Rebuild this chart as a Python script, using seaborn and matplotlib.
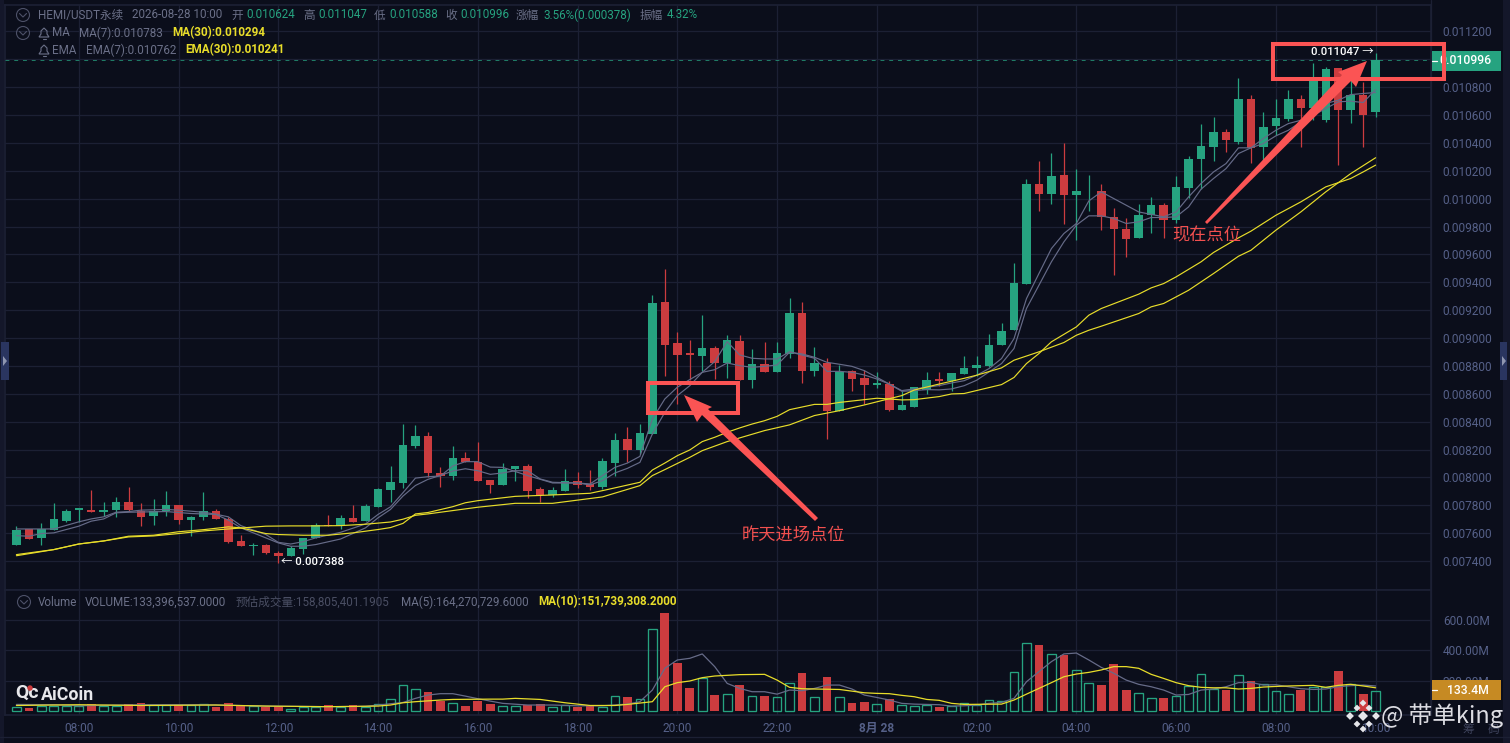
import matplotlib
matplotlib.use("Agg")
import matplotlib.pyplot as plt
import numpy as np
import seaborn as sns
from matplotlib.patches import Circle, Polygon, Rectangle

# all prices are in millionths, volumes in millions
opens = [
    7513, 7628, 7563, 7626, 7690, 7765, 7767, 7750, 7765, 7825,
    7762, 7722, 7758, 7803, 7693, 7717, 7760, 7705, 7546, 7506,
    7518, 7460, 7434, 7484, 7563, 7659, 7654, 7712, 7686, 7791,
    7909, 7959, 8225, 8295, 8033, 8007, 8142, 8113, 7978, 7948,
    8060, 8082, 7917, 7874, 7905, 7974, 7950, 7931, 8103, 8273,
    8197, 8312, 9261, 8965, 8890, 8871, 8929, 8821, 8979, 8702,
    8814, 8756, 8886, 9180, 8766, 8821, 8480, 8764, 8713, 8663,
    8668, 8484, 8508, 8630, 8704, 8692, 8742, 8786, 8800, 8949,
    9056, 9386, 10102, 10032, 10173, 10025, 10054, 10058, 9870, 9786,
    9719, 9881, 9958, 9846, 10075, 10283, 10369, 10482, 10410, 10719,
    10369, 10520, 10575, 10719, 10653, 10565, 10935, 10636, 10744, 10624,
]
closes = [
    7626, 7561, 7630, 7698, 7760, 7777, 7750, 7767, 7825, 7765,
    7714, 7762, 7803, 7693, 7719, 7760, 7702, 7539, 7506, 7518,
    7455, 7434, 7496, 7568, 7657, 7650, 7712, 7683, 7798, 7914,
    7964, 8230, 8295, 8031, 8012, 8142, 8113, 7974, 7942, 8060,
    8082, 7905, 7874, 7910, 7974, 7946, 7934, 8118, 8269, 8197,
    8319, 9252, 8950, 8879, 8879, 8929, 8821, 8986, 8702, 8814,
    8754, 8893, 9180, 8766, 8821, 8477, 8759, 8706, 8663, 8678,
    8486, 8520, 8647, 8699, 8692, 8749, 8785, 8810, 8953, 9054,
    9398, 10109, 10032, 10166, 10025, 10058, 10058, 9870, 9781, 9709,
    9886, 9958, 9846, 10087, 10288, 10381, 10482, 10420, 10719, 10365,
    10515, 10582, 10719, 10654, 10850, 10931, 10636, 10744, 10600, 10996,
]
highs = [
    7654, 7628, 7674, 7813, 7770, 7777, 7911, 7827, 7856, 7933,
    7813, 7846, 7902, 7803, 7722, 7894, 7774, 7717, 7585, 7530,
    7525, 7474, 7510, 7568, 7674, 7731, 7731, 7803, 7810, 7926,
    8084, 8382, 8374, 8329, 8077, 8223, 8180, 8257, 7978, 8100,
    8082, 8094, 7929, 7929, 8060, 8037, 8053, 8137, 8319, 8362,
    8383, 9309, 9496, 9044, 8986, 9168, 8945, 9024, 9024, 8922,
    8969, 8974, 9288, 9261, 8936, 8857, 8807, 8773, 8771, 8759,
    8692, 8623, 8647, 8754, 8754, 8749, 8869, 8869, 9032, 9111,
    9539, 10140, 10274, 10331, 10400, 10214, 10173, 10102, 9936, 9858,
    9965, 10013, 9972, 10166, 10305, 10539, 10587, 10503, 10867, 10743,
    10623, 10719, 10778, 10743, 10974, 10947, 10941, 10850, 10838, 11047,
]
lows = [
    7513, 7555, 7515, 7626, 7678, 7680, 7750, 7722, 7717, 7762,
    7650, 7662, 7722, 7669, 7578, 7693, 7702, 7530, 7506, 7446,
    7453, 7388, 7434, 7453, 7563, 7650, 7630, 7683, 7686, 7791,
    7827, 7923, 8214, 8005, 7928, 7983, 8113, 7974, 7890, 7948,
    7977, 7850, 7821, 7857, 7905, 7922, 7912, 7917, 8013, 8113,
    8168, 8312, 8730, 8527, 8702, 8766, 8706, 8714, 8702, 8639,
    8754, 8756, 8857, 8678, 8730, 8276, 8480, 8623, 8527, 8642,
    8479, 8484, 8508, 8599, 8658, 8623, 8742, 8730, 8790, 8949,
    9056, 9386, 9910, 9960, 9819, 9702, 9910, 9774, 9451, 9580,
    9719, 9755, 9719, 9826, 10008, 10068, 10269, 10336, 10396, 10259,
    10276, 10456, 10556, 10369, 10563, 10550, 10240, 10544, 10369, 10588,
]
volumes = [
    27, 20, 29, 30, 29, 29, 44, 31, 31, 44,
    51, 40, 35, 35, 38, 42, 24, 49, 33, 31,
    27, 31, 15, 22, 27, 35, 24, 35, 22, 42,
    75, 168, 141, 124, 64, 49, 31, 64, 46, 33,
    29, 38, 44, 22, 35, 27, 31, 27, 95, 91,
    77, 539, 648, 318, 150, 214, 104, 108, 170, 95,
    97, 88, 181, 250, 88, 223, 88, 51, 57, 42,
    75, 40, 29, 35, 24, 31, 53, 35, 69, 62,
    254, 446, 435, 373, 369, 267, 181, 170, 309, 137,
    115, 82, 84, 95, 164, 241, 146, 137, 234, 197,
    175, 128, 108, 137, 159, 159, 263, 175, 110, 133,
]

# indicator lines, read at their visible corners: (candle index, value)
ma7_at = [0, 1, 2, 3, 5, 6, 7, 8, 9, 12, 14, 16, 17, 18, 20, 21, 22, 23, 24, 26, 28, 29, 30, 31, 32, 33, 34, 35, 36, 37, 38, 39, 40, 41, 42, 43, 45, 46, 47, 48, 49, 50, 51, 52, 53, 54, 55, 56, 57, 58, 59, 60, 61, 62, 63, 64, 65, 66, 67, 68, 69, 70, 71, 72, 73, 74, 75, 76, 77, 78, 79, 80, 81, 82, 83, 84, 85, 86, 87, 88, 89, 90, 91, 92, 93, 94, 95, 96, 97, 98, 99, 100, 101, 102, 103, 105, 106, 107, 108, 109]
ma7_val = [7582, 7578, 7597, 7602, 7650, 7686, 7702, 7746, 7750, 7755, 7741, 7734, 7693, 7638, 7566, 7530, 7506, 7506, 7518, 7558, 7638, 7710, 7770, 7866, 7942, 7986, 8014, 8046, 8062, 8048, 8022, 8032, 8048, 8048, 7989, 7965, 7960, 7946, 7977, 8032, 8065, 8108, 8312, 8467, 8587, 8658, 8754, 8831, 8974, 8879, 8855, 8850, 8850, 8902, 8878, 8855, 8761, 8761, 8754, 8735, 8706, 8670, 8618, 8623, 8630, 8628, 8635, 8658, 8697, 8757, 8817, 8925, 9212, 9379, 9547, 9690, 9810, 9877, 9877, 9858, 9822, 9834, 9865, 9865, 9870, 9941, 10068, 10145, 10216, 10324, 10365, 10396, 10451, 10491, 10551, 10647, 10695, 10700, 10690, 10783]
ema7_at = [0, 2, 3, 5, 6, 7, 8, 9, 10, 12, 13, 15, 16, 17, 18, 20, 21, 22, 23, 24, 26, 28, 29, 30, 31, 32, 33, 34, 35, 36, 37, 38, 39, 41, 43, 45, 46, 47, 48, 49, 50, 51, 52, 53, 54, 55, 56, 57, 58, 59, 60, 61, 62, 63, 64, 65, 66, 67, 68, 69, 70, 71, 72, 73, 74, 75, 76, 77, 78, 79, 80, 81, 82, 83, 84, 85, 86, 87, 88, 90, 92, 93, 94, 95, 96, 97, 98, 99, 100, 101, 102, 103, 105, 106, 107, 108, 109]
ema7_val = [7630, 7630, 7630, 7681, 7702, 7717, 7750, 7755, 7765, 7770, 7765, 7750, 7736, 7717, 7654, 7590, 7534, 7522, 7539, 7566, 7606, 7666, 7734, 7789, 7890, 7995, 8005, 8010, 8082, 8113, 8113, 8074, 8072, 8013, 7960, 7960, 7953, 8013, 8072, 8103, 8151, 8419, 8563, 8647, 8702, 8754, 8773, 8821, 8802, 8790, 8797, 8807, 8898, 8886, 8862, 8826, 8812, 8797, 8766, 8718, 8670, 8623, 8635, 8647, 8659, 8678, 8694, 8733, 8781, 8853, 8996, 9283, 9463, 9642, 9750, 9822, 9984, 10049, 10001, 9905, 9870, 9905, 10013, 10109, 10192, 10252, 10365, 10365, 10432, 10491, 10539, 10563, 10683, 10707, 10747, 10755, 10762]
ema30_at = [0, 3, 5, 7, 9, 11, 13, 15, 16, 17, 18, 20, 21, 23, 25, 27, 29, 30, 31, 32, 33, 35, 36, 37, 40, 43, 46, 47, 50, 51, 52, 53, 54, 55, 56, 57, 58, 59, 60, 61, 62, 64, 65, 66, 69, 70, 71, 72, 74, 75, 76, 79, 80, 81, 82, 83, 85, 86, 87, 90, 91, 92, 93, 95, 96, 98, 99, 101, 103, 105, 107, 108, 109]
ema30_val = [7438, 7482, 7522, 7544, 7578, 7585, 7610, 7625, 7635, 7645, 7638, 7597, 7590, 7585, 7585, 7602, 7626, 7640, 7670, 7738, 7748, 7790, 7818, 7833, 7864, 7874, 7886, 7905, 7965, 8053, 8103, 8156, 8197, 8257, 8288, 8324, 8355, 8383, 8407, 8438, 8486, 8524, 8524, 8538, 8568, 8563, 8556, 8558, 8580, 8599, 8602, 8666, 8717, 8817, 8889, 8973, 9080, 9164, 9212, 9315, 9360, 9391, 9439, 9547, 9614, 9719, 9767, 9881, 9977, 10085, 10145, 10192, 10241]
ma30_at = [0, 3, 5, 7, 9, 11, 13, 15, 17, 20, 22, 24, 26, 28, 30, 31, 32, 33, 35, 37, 40, 43, 47, 50, 51, 52, 54, 55, 57, 60, 62, 64, 66, 68, 71, 72, 74, 76, 77, 79, 80, 82, 84, 85, 86, 87, 90, 91, 92, 94, 96, 98, 99, 101, 103, 105, 107, 109]
ma30_val = [7446, 7482, 7522, 7544, 7573, 7580, 7597, 7616, 7630, 7650, 7652, 7652, 7654, 7664, 7680, 7700, 7728, 7738, 7762, 7786, 7814, 7814, 7860, 7941, 8013, 8056, 8144, 8192, 8257, 8336, 8377, 8444, 8479, 8520, 8587, 8627, 8670, 8711, 8733, 8786, 8841, 8901, 8968, 9020, 9056, 9085, 9176, 9224, 9248, 9343, 9463, 9587, 9630, 9774, 9905, 10049, 10180, 10294]

vol_ma5_at = [0, 3, 5, 10, 15, 20, 25, 28, 29, 31, 32, 33, 34, 35, 36, 37, 38, 39, 41, 43, 45, 47, 49, 50, 51, 52, 53, 54, 55, 56, 57, 58, 59, 60, 61, 62, 63, 64, 65, 66, 67, 68, 69, 70, 71, 72, 73, 74, 75, 76, 77, 78, 79, 80, 81, 82, 83, 84, 85, 86, 87, 88, 89, 90, 91, 92, 93, 94, 95, 96, 97, 98, 99, 100, 101, 102, 103, 104, 105, 106, 107, 108, 109]
vol_ma5_val = [42, 40, 33, 40, 40, 31, 27, 29, 38, 55, 82, 104, 113, 113, 97, 80, 64, 49, 38, 38, 33, 33, 44, 60, 137, 281, 336, 347, 376, 292, 181, 148, 126, 126, 110, 137, 133, 148, 170, 170, 144, 104, 88, 71, 49, 44, 42, 40, 31, 33, 38, 49, 55, 82, 192, 259, 325, 376, 382, 336, 287, 248, 203, 175, 159, 137, 104, 108, 137, 144, 159, 186, 188, 170, 172, 159, 146, 141, 144, 159, 166, 170, 164]
vol_ma10_at = [0, 5, 10, 16, 20, 25, 29, 30, 31, 32, 34, 35, 38, 39, 40, 42, 44, 46, 48, 49, 50, 51, 52, 53, 54, 55, 56, 58, 60, 61, 62, 63, 64, 66, 67, 68, 69, 70, 71, 72, 73, 74, 75, 76, 79, 80, 81, 82, 83, 84, 85, 86, 87, 88, 89, 90, 91, 92, 93, 94, 95, 96, 97, 98, 99, 100, 101, 102, 103, 104, 105, 106, 107, 108, 109]
vol_ma10_val = [35, 40, 35, 38, 31, 27, 31, 38, 53, 60, 71, 75, 77, 77, 82, 75, 53, 35, 35, 42, 51, 60, 159, 186, 197, 219, 230, 239, 241, 203, 155, 146, 144, 141, 130, 119, 115, 113, 102, 93, 75, 69, 49, 42, 44, 71, 110, 148, 186, 225, 243, 254, 270, 292, 292, 281, 241, 214, 186, 166, 155, 152, 152, 144, 148, 157, 161, 164, 166, 168, 155, 168, 175, 164, 152]

y_ticks = [7400, 7600, 7800, 8000, 8200, 8400, 8600, 8800, 9000, 9200, 9400, 9600, 9800, 10000, 10200, 10400, 10600, 10800, 11000, 11200]
vol_ticks = [200, 400, 600]
time_ticks = [5, 13, 21, 29, 37, 45, 53, 61, 69, 77, 85, 93, 101, 109]
time_labels = ["08:00", "10:00", "12:00", "14:00", "16:00", "18:00", "20:00", "22:00", "8月 28", "02:00", "04:00", "06:00", "08:00", "10:00"]

BG = "#0b0e1b"
GRID = "#1c2034"
GREEN = "#26a380"
RED = "#cc3c3f"
GRAY_LINE = "#666b88"
YELLOW = "#e8dd2a"
AXIS_TEXT = "#556088"
LABEL = "#6b7088"
MARK = "#fb5454"
W, H = 1510, 743


def pane(fig, left, top, right, bottom):
    ax = fig.add_axes([left / W, 1 - bottom / H, (right - left) / W, (bottom - top) / H])
    ax.set_facecolor(BG)
    ax.grid(True, color=GRID, linewidth=0.9)
    ax.set_axisbelow(True)
    for s in ax.spines.values():
        s.set_color(GRID)
    return ax


def write(ax, x, y, s, color=LABEL, size=8.4, weight="normal", ha="left", **kw):
    ax.text(x, y, s, color=color, fontsize=size, fontweight=weight, ha=ha, va="center", **kw)


def chevron_badge(ax, x, y):
    ax.add_patch(Circle((x, y), 6.5, fill=False, edgecolor="#4d5168", linewidth=0.8))
    ax.plot([x - 3.5, x, x + 3.5], [y - 1.5, y + 2, y - 1.5], color="#4d5168", linewidth=0.8)


def bell(ax, x, y):
    ax.add_patch(Polygon([(x - 5, y + 4), (x - 3, y + 1), (x - 3, y - 2), (x, y - 5), (x + 3, y - 2), (x + 3, y + 1), (x + 5, y + 4)],
                         closed=True, fill=False, edgecolor=LABEL, linewidth=0.8))
    ax.plot([x - 1.5, x + 1.5], [y + 6, y + 6], color=LABEL, linewidth=0.8)


def main() -> None:
    sns.set_theme(style="dark", rc={"figure.facecolor": BG, "axes.facecolor": BG})
    plt.rcParams["font.family"] = ["Roboto", "Noto Sans CJK SC", "DejaVu Sans"]

    o, c, h, l = (np.array(a) * 1e-6 for a in (opens, closes, highs, lows))
    idx = np.arange(len(opens))
    up = c >= o
    colors = np.where(up, GREEN, RED)

    fig = plt.figure(figsize=(W / 100, H / 100), dpi=100, facecolor=BG)
    x_lim = ((5 - 16.4) / 12.47, (1431 - 16.4) / 12.47)

    # candles
    ax = pane(fig, 5, 5, 1431, 590)
    ax.vlines(idx, l, h, colors=colors, linewidth=0.9, zorder=2)
    ax.bar(idx, np.maximum(np.abs(c - o), 2e-6), bottom=np.minimum(o, c), width=0.68,
           color=colors, edgecolor="none", linewidth=0, zorder=3)

    # moving averages
    for at, val, col in [(ma7_at, ma7_val, GRAY_LINE), (ema7_at, ema7_val, GRAY_LINE),
                         (ma30_at, ma30_val, YELLOW), (ema30_at, ema30_val, YELLOW)]:
        sns.lineplot(x=at, y=np.array(val) * 1e-6, ax=ax, color=col, linewidth=0.85,
                     estimator=None, sort=False, legend=False, zorder=4)
    ax.axhline(closes[-1] * 1e-6, color=GREEN, linewidth=0.7, linestyle=(0, (4, 5)), alpha=0.75, zorder=4)

    ax.set_xlim(*x_lim)
    ax.set_ylim(7192e-6, 11390e-6)
    ax.set_xticks(time_ticks)
    ax.tick_params(axis="x", length=0, labelbottom=False)
    ax.set_yticks(np.array(y_ticks) * 1e-6)
    # the 0.011000 label sits under the last price tag
    ax.set_yticklabels(["" if v == 11000 else f"{v * 1e-6:.6f}" for v in y_ticks])
    ax.yaxis.tick_right()
    ax.tick_params(axis="y", length=0, pad=8.5, labelsize=8.6, labelcolor=AXIS_TEXT)
    ax.set_xlabel("")
    ax.set_ylabel("")

    # volume
    vax = pane(fig, 5, 590, 1431, 715)
    vol = np.array(volumes)
    sns.barplot(x=idx[up], y=vol[up], ax=vax, native_scale=True, width=0.7, fill=False,
                color=GREEN, linewidth=0.95, errorbar=None, zorder=3)
    sns.barplot(x=idx[~up], y=vol[~up], ax=vax, native_scale=True, width=0.7,
                color=RED, saturation=1, edgecolor="none", linewidth=0, errorbar=None, zorder=3)
    sns.lineplot(x=vol_ma5_at, y=vol_ma5_val, ax=vax, color=GRAY_LINE, linewidth=0.9,
                 estimator=None, sort=False, legend=False, zorder=4)
    sns.lineplot(x=vol_ma10_at, y=vol_ma10_val, ax=vax, color=YELLOW, linewidth=0.9,
                 estimator=None, sort=False, legend=False, zorder=5)
    vax.set_xlim(*x_lim)
    vax.set_ylim(-28, 799)
    vax.set_xticks(time_ticks)
    vax.set_xticklabels(time_labels)
    vax.get_xticklabels()[8].set_fontweight("bold")
    vax.set_yticks(vol_ticks)
    vax.set_yticklabels([f"{v}.00M" for v in vol_ticks])
    vax.yaxis.tick_right()
    vax.tick_params(axis="y", length=0, pad=8.5, labelsize=8.6, labelcolor=AXIS_TEXT)
    vax.tick_params(axis="x", length=0, pad=5, labelsize=8.6, labelcolor=AXIS_TEXT)
    vax.set_xlabel("")
    vax.set_ylabel("")

    # overlay in pixels for the header, the drawn marks and the watermark
    top = fig.add_axes([0, 0, 1, 1], facecolor="none")
    top.set_xlim(0, W)
    top.set_ylim(H, 0)
    top.axis("off")

    # side rails and handles
    top.add_patch(Rectangle((0, 0), 4, H, color="#14172a", linewidth=0))
    top.add_patch(Rectangle((1503, 0), 7, H, color="#14172a", linewidth=0))
    top.add_patch(Rectangle((1, 342), 8, 38, color="#2a3560", linewidth=0))
    top.add_patch(Rectangle((1500, 342), 7, 38, color="#2a3560", linewidth=0))
    top.add_patch(Polygon([(3, 356), (7, 361), (3, 366)], color="#8f96b0", linewidth=0))
    top.add_patch(Polygon([(1502, 356), (1506, 361), (1502, 366)], color="#8f96b0", linewidth=0))
    top.plot([1431, 1431], [0, 715], color=GRID, linewidth=0.9)
    top.plot([0, W], [737, 737], color=GRID, linewidth=0.9)

    # header rows
    chevron_badge(top, 23, 15)
    chevron_badge(top, 23, 33)
    chevron_badge(top, 24, 602)
    for x, s, col in [(38, "HEMI/USDT永续", LABEL), (132, "2026-08-28 10:00", LABEL), (231, "开", LABEL), (246, "0.010624", GREEN),
                      (303, "高", LABEL), (318, "0.011047", GREEN), (374, "低", LABEL), (389, "0.010588", GREEN),
                      (445, "收", LABEL), (460, "0.010996", GREEN), (516, "涨幅", LABEL), (543, "3.56%(0.000378)", GREEN),
                      (640, "振幅", LABEL), (667, "4.32%", GREEN)]:
        write(top, x, 15, s, col)
    bell(top, 44, 33)
    write(top, 52, 33, "MA")
    write(top, 79, 33, "MA(7):0.010783")
    write(top, 172, 33, "MA(30):0.010294", YELLOW, weight="bold")
    bell(top, 44, 50)
    write(top, 52, 50, "EMA")
    write(top, 86, 50, "EMA(7):0.010762")
    write(top, 185, 50, "EMA(30):0.010241", YELLOW, weight="bold")
    write(top, 38, 602, "Volume")
    write(top, 85, 602, "VOLUME:133,396,537.0000")
    write(top, 236, 602, "预估成交量:158,805,401.1905", "#4a4e63")
    write(top, 401, 602, "MA(5):164,270,729.6000")
    write(top, 538, 602, "MA(10):151,739,308.2000", YELLOW, weight="bold")

    # extreme labels
    write(top, 1311, 52, "0.011047 →", "white", size=8.2, weight="medium")
    write(top, 281, 562, "← 0.007388", "white", size=8.2, weight="medium")

    # last price and last volume tags
    top.add_patch(Rectangle((1432, 51), 69, 20, color=GREEN, linewidth=0, zorder=3))
    write(top, 1492, 61, "0.010996", "white", size=8.8, weight="medium", ha="right", zorder=4)
    top.plot([1432, 1437], [61, 61], color="white", linewidth=0.9, zorder=4)
    top.add_patch(Rectangle((1432, 680), 69, 20, color="#c68a23", linewidth=0, zorder=3))
    write(top, 1447, 690, "133.4M", "white", size=8.8, weight="medium", zorder=4)
    top.plot([1432, 1437], [690, 690], color="white", linewidth=0.9, zorder=4)

    # hand drawn boxes and arrows
    top.add_patch(Rectangle((648, 383), 90, 30, fill=False, edgecolor=MARK, linewidth=2.9, zorder=5))
    top.add_patch(Rectangle((1272.5, 44), 171.5, 35, fill=False, edgecolor=MARK, linewidth=2.9, zorder=5))
    top.add_patch(Polygon([(684, 395), (712, 407), (708, 409), (818, 518), (815, 521), (702, 415), (697, 422)],
                          closed=True, color=MARK, linewidth=0, zorder=6))
    top.add_patch(Polygon([(1367, 61), (1338, 72), (1342, 75), (1205, 222), (1207, 224), (1351, 81), (1356, 87)],
                          closed=True, color=MARK, linewidth=0, zorder=6))
    write(top, 742, 536, "昨天进场点位", "#f2504f", size=12.4, family=["Noto Sans CJK SC", "DejaVu Sans"], zorder=6)
    write(top, 1172, 235, "现在点位", "#f2504f", size=12.4, family=["Noto Sans CJK SC", "DejaVu Sans"], zorder=6)

    # AiCoin mark
    write(top, 15, 693, "Qc", "#e8e8ec", size=14, weight="bold", zorder=6)
    top.add_patch(Circle((30, 688), 2, color=RED, zorder=7))
    write(top, 41, 695, "AiCoin", "#e8e8ec", size=12.8, weight="bold", zorder=6)

    # watermark
    wx = [1363, 1350, 1376, 1357, 1369, 1363, 1357, 1369, 1363]
    wy = [716, 716, 716, 708, 708, 703, 724, 724, 729]
    ws = [26, 16, 16, 12, 12, 12, 12, 12, 12]
    top.scatter(wx, wy, s=ws, marker="D", color="#e6e6ea", linewidths=0, zorder=6)
    write(top, 1381, 716, "@ 带单king", "#dcdce2", size=17, family=["Noto Sans CJK SC", "DejaVu Sans"], zorder=6)
    write(top, 1462, 730, "筹", "#3e435c", size=8.5, zorder=5)
    write(top, 1488, 730, "码", "#3e435c", size=8.5, zorder=5)

    fig.savefig("out.png", dpi=100, facecolor=BG)
    plt.close(fig)


if __name__ == "__main__":
    main()
